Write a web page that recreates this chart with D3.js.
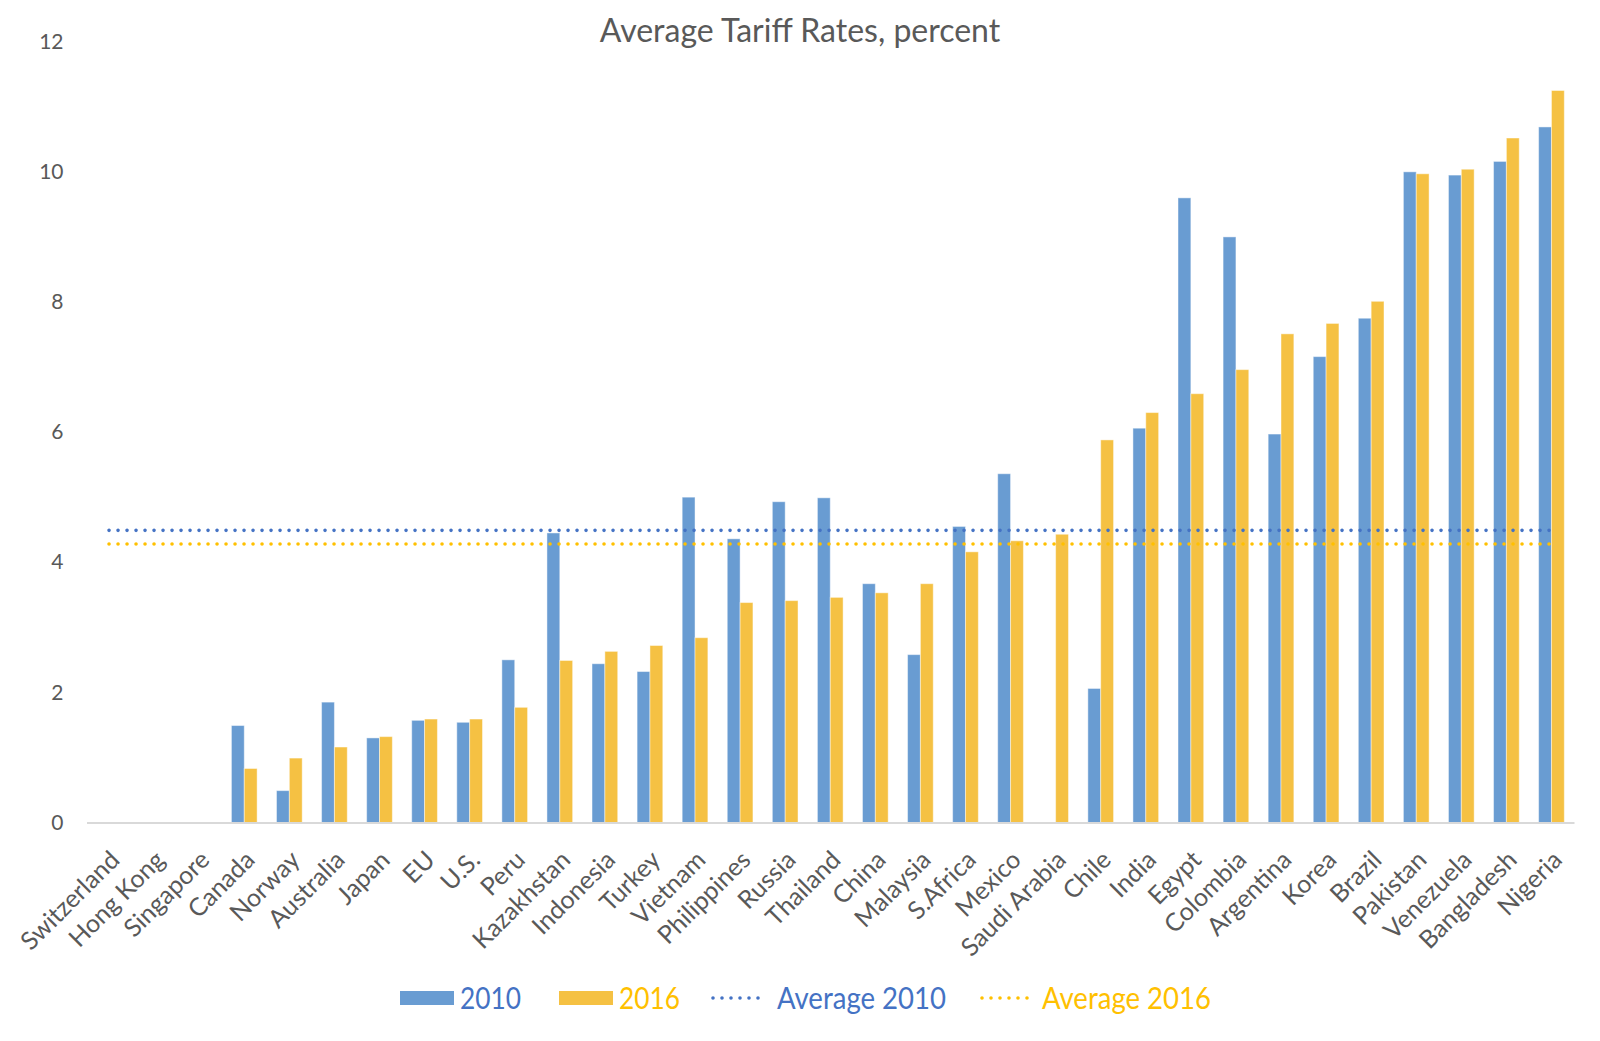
<!DOCTYPE html>
<html>
<head>
<meta charset="utf-8">
<script src="https://cdn.jsdelivr.net/npm/d3@7"></script>
<style>
  body { margin: 0; background: #fff; }
  text { font-family: Lato, "Open Sans", sans-serif; }
</style>
</head>
<body>
<script>
// values
var countries = ['Switzerland', 'Hong Kong', 'Singapore', 'Canada', 'Norway', 'Australia', 'Japan', 'EU', 'U.S.',
  'Peru', 'Kazakhstan', 'Indonesia', 'Turkey', 'Vietnam', 'Philippines', 'Russia', 'Thailand', 'China', 'Malaysia',
  'S.Africa', 'Mexico', 'Saudi Arabia', 'Chile', 'India', 'Egypt', 'Colombia', 'Argentina', 'Korea', 'Brazil',
  'Pakistan', 'Venezuela', 'Bangladesh', 'Nigeria'];
var rates2010 = [0, 0, 0, 1.49, 0.49, 1.85, 1.30, 1.57, 1.54,
  2.50, 4.45, 2.44, 2.32, 5.00, 4.36, 4.93, 4.99, 3.67, 2.58,
  4.55, 5.36, 0, 2.06, 6.06, 9.60, 9.00, 5.97, 7.16, 7.75,
  10.00, 9.95, 10.16, 10.69];
var rates2016 = [0, 0, 0, 0.83, 0.99, 1.16, 1.32, 1.59, 1.59,
  1.77, 2.49, 2.63, 2.72, 2.84, 3.38, 3.41, 3.46, 3.53, 3.67,
  4.16, 4.33, 4.43, 5.88, 6.30, 6.59, 6.96, 7.51, 7.67, 8.01,
  9.97, 10.04, 10.52, 11.25];
var average2010 = 4.49;
var average2016 = 4.28;
var seriesNames = ['2010', '2016'];
var yTicks = [0, 2, 4, 6, 8, 10, 12];

var width = 1600, height = 1041;
var blue = '#699CD2', orange = '#F5C143';
var blueText = '#4472C4', orangeText = '#FFC000';
var grey = '#595959';

var svg = d3.select('body').append('svg')
    .attr('width', width)
    .attr('height', height);

var x0 = d3.scaleBand()
    .domain(countries)
    .range([86.5, 1574])
    .paddingInner(0.43)
    .paddingOuter(0.215);

var x1 = d3.scaleBand()
    .domain(seriesNames)
    .range([0, x0.bandwidth()]);

var y = d3.scaleLinear()
    .domain([0, 12])
    .range([822.5, 41.7]);

// title
svg.append('text')
    .attr('x', 800)
    .attr('y', 42)
    .attr('text-anchor', 'middle')
    .style('font-size', '32px')
    .style('fill', grey)
    .text('Average Tariff Rates, percent');

// y axis labels only
var yAxis = svg.append('g')
    .attr('transform', 'translate(86.5,0)')
    .call(d3.axisLeft(y).tickValues(yTicks).tickSize(0).tickPadding(23));
yAxis.select('.domain').remove();
yAxis.selectAll('text')
    .style('font-size', '21px')
    .style('font-family', 'Lato, sans-serif')
    .style('fill', grey);

// bars
var rows = countries.map(function(c, i) {
  return {country: c, values: [rates2010[i], rates2016[i]]};
});

var groups = svg.selectAll('.group')
    .data(rows)
    .enter().append('g')
    .attr('class', 'group')
    .attr('transform', function(d) { return 'translate(' + x0(d.country) + ',0)'; });

groups.selectAll('rect')
    .data(function(d) {
      return d.values.map(function(v, k) { return {key: seriesNames[k], value: v}; });
    })
    .enter().append('rect')
    .filter(function(d) { return d.value > 0; })
    .attr('x', function(d) { return x1(d.key); })
    .attr('y', function(d) { return y(d.value); })
    .attr('width', x1.bandwidth())
    .attr('height', function(d) { return y(0) - y(d.value); })
    .style('fill', function(d) { return d.key == '2010' ? blue : orange; })
    .style('stroke', 'rgba(255,255,255,0.45)')
    .style('stroke-width', 1);

// x axis baseline and labels
var xAxis = svg.append('g')
    .attr('transform', 'translate(0,' + y(0) + ')')
    .call(d3.axisBottom(x0).tickSize(0));
xAxis.select('.domain')
    .attr('stroke', '#D9D9D9')
    .attr('stroke-width', 2);
xAxis.selectAll('text')
    .attr('y', 0)
    .attr('dy', 0)
    .attr('text-anchor', 'end')
    .attr('transform', 'translate(12,39) rotate(-45)')
    .style('font-size', '25px')
    .style('font-family', 'Lato, sans-serif')
    .style('fill', grey);

// average lines across category centres
var first = countries[0], last = countries[countries.length - 1];
var cx = function(c) { return x0(c) + x0.bandwidth() / 2; };
[[average2010, '#4472C4'], [average2016, '#FFC000']].forEach(function(a) {
  svg.append('line')
      .attr('x1', cx(first))
      .attr('x2', cx(last))
      .attr('y1', y(a[0]))
      .attr('y2', y(a[0]))
      .style('stroke', a[1])
      .style('stroke-width', 3.6)
      .style('stroke-linecap', 'round')
      .style('stroke-dasharray', '0 9');
});

// legend
var legendY = 998;
var legend = [
  {type: 'rect', color: blue, text: '2010', textColor: blueText, x: 400, tx: 460, tw: 61},
  {type: 'rect', color: orange, text: '2016', textColor: orangeText, x: 559, tx: 619, tw: 61},
  {type: 'line', color: '#4472C4', text: 'Average 2010', textColor: blueText, x: 711, tx: 777, tw: 169},
  {type: 'line', color: '#FFC000', text: 'Average 2016', textColor: orangeText, x: 980, tx: 1042, tw: 169}
];
legend.forEach(function(l) {
  if (l.type == 'rect') {
    svg.append('rect')
        .attr('x', l.x).attr('y', legendY - 7)
        .attr('width', 54).attr('height', 14)
        .style('fill', l.color);
  } else {
    svg.append('line')
        .attr('x1', l.x + 2).attr('x2', l.x + 52)
        .attr('y1', legendY).attr('y2', legendY)
        .style('stroke', l.color)
        .style('stroke-width', 3.6)
        .style('stroke-linecap', 'round')
        .style('stroke-dasharray', '0 9');
  }
  svg.append('text')
      .attr('x', l.tx)
      .attr('y', legendY + 11)
      .attr('textLength', l.tw)
      .attr('lengthAdjust', 'spacingAndGlyphs')
      .style('font-size', '31px')
      .style('fill', l.textColor)
      .text(l.text);
});
</script>
</body>
</html>
